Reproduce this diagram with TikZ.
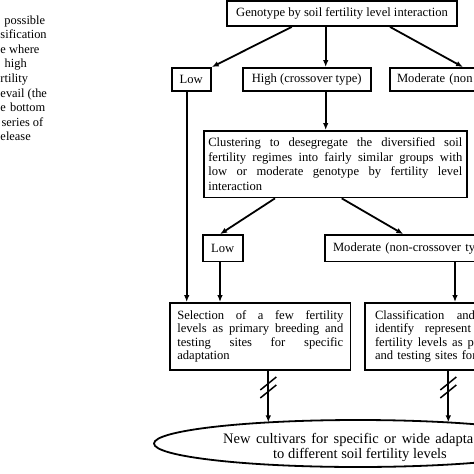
\documentclass[tikz,border=0pt]{standalone}
\usepackage{fontspec}
\setmainfont{Liberation Serif}
\usetikzlibrary{arrows.meta,shapes.geometric,calc}
\newcommand\xdfont{\fontsize{12.6pt}{14.4pt}\selectfont}
\newcommand\xsfont{\fontsize{12.6pt}{13.3pt}\selectfont}
\newcommand\xefont{\fontsize{14.5pt}{15pt}\selectfont}
\newcommand\xlfont{\fontsize{12.4pt}{14.6pt}\selectfont}
\newcommand\jl[2]{\leavevmode\hbox to #1{\spaceskip=0pt plus 1fil\relax #2}}
\begin{document}
\begin{tikzpicture}[x=1pt,y=-1pt,
  box/.style={draw,line width=1.8pt,inner sep=0pt,font=\xdfont},
  arr/.style={line width=1.8pt,-{Latex[length=7pt,width=5.5pt]}},
  slash/.style={line width=1.5pt},
  lefttxt/.style={font=\xlfont,inner sep=0pt}]
\useasboundingbox (0,0) rectangle (474,474);
\clip (0,0) rectangle (474,474);

% left caption fragments
\node[lefttxt,anchor=base east] (c1) at (45.3,24) {possible};
\node[lefttxt,anchor=base west] (c2) at (0.3,38.6) {sification};
\node[lefttxt,anchor=base west] (c3) at (0.3,53.2) {e where};
\node[lefttxt,anchor=base west] (c4) at (4.5,67.8) {high};
\node[lefttxt,anchor=base west] (c5) at (0.3,82.4) {rtility};
\node[lefttxt,anchor=base west] (c6) at (0.3,97) {evail (the};
\node[lefttxt,anchor=base west] (c7) at (0.3,111.6) {\jl{44.7pt}{e bottom}};
\node[lefttxt,anchor=base east] (c8) at (43.5,126.2) {series of};
\node[lefttxt,anchor=base west] (c9) at (0.3,140.8) {elease};

% boxes
\node[box,minimum width=230pt,minimum height=25pt] (top) at (342,13.5) {Genotype by soil fertility level interaction};
\node[box,minimum width=39pt,minimum height=23pt] (low1) at (191.2,79.5) {Low};
\node[box,minimum width=128pt,minimum height=23pt] (high) at (306.7,79.5) {High (crossover type)};
\node[box,minimum height=23pt,text width=116pt,inner xsep=7pt,align=left] (mod1) at (455,79.5) {Moderate (non};
\node[box,text width=254pt,inner xsep=4.5pt,minimum height=66.5pt,align=left] (clus) at (335.3,164.2)
  {\jl{254pt}{Clustering to desegregate the diversified soil}\\
   \jl{254pt}{fertility regimes into fairly similar groups with}\\
   \jl{254pt}{low or moderate genotype by fertility level}\\
   interaction};
\node[box,minimum width=40pt,minimum height=26.5pt] (low2) at (222.7,248.3) {Low};
\node[box,minimum height=26.5pt,text width=184pt,inner xsep=8pt,align=left] (mod2) at (425,248.3) {Moderate (non-crossover ty};
\node[box,font=\xsfont,text width=166pt,inner xsep=7.25pt,minimum height=67pt,align=left] (sel) at (260.3,336.5)
  {\jl{166pt}{Selection of a few fertility}\\
   \jl{166pt}{levels as primary breeding and}\\
   \jl{166pt}{testing sites for specific}\\
   adaptation};
\node[box,font=\xsfont,text width=166pt,inner xsep=10pt,minimum height=67pt,align=left] (clas) at (458,336.5)
  {\jl{100pt}{Classification and}\\
   \jl{96pt}{identify represent}\\
   \jl{99pt}{fertility levels as p}\\
   and testing sites for};

% ellipse
\node[draw,ellipse,line width=1.8pt,minimum width=408pt,minimum height=47pt,inner sep=0pt] (ell) at (358,443.5) {};
\node[font=\xefont,anchor=base west,inner sep=0pt] (el1) at (223,443.5) {\jl{250pt}{New cultivars for specific or wide adapta}};
\node[font=\xefont,anchor=base,inner sep=0pt] (el2) at (360,458) {to different soil fertility levels};
\coordinate (e1) at (268.3,422.4);
\coordinate (e2) at (448.3,422.4);

% connectors
\draw[arr] ([xshift=-50.3pt]top.south) -- ([xshift=20.5pt]low1.north);
\draw[arr] ([xshift=-16.3pt]top.south) -- ([xshift=19pt]high.north);
\draw[arr] ([xshift=48pt]top.south) -- ([xshift=8pt]mod1.north);
\draw[arr] ([xshift=19pt]high.south) -- ([xshift=-9.6pt]clus.north);
\draw[arr] ([xshift=-4.5pt]low1.south) -- ([xshift=-73.6pt]sel.north);
\draw[arr] ([xshift=-60.3pt]clus.south) -- ([xshift=-2.7pt]low2.north);
\draw[arr] ([xshift=6.4pt]clus.south) -- ([xshift=-21.7pt]mod2.north);
\draw[arr] ([xshift=-2.7pt]low2.south) -- ([xshift=-40.3pt]sel.north);
\draw[arr] ([xshift=30pt]mod2.south) -- ([xshift=-3pt]clas.north);
\draw[arr] ([xshift=8pt]sel.south) -- (e1);
\draw[arr] ([xshift=-9.7pt]clas.south) -- (e2);

% break marks
\draw[slash] ($(e1)+(-8,-32.4)$) -- ++(16,-13);
\draw[slash] ($(e1)+(-8,-24.4)$) -- ++(16,-13);
\draw[slash] ($(e2)+(-8,-32.4)$) -- ++(16,-13);
\draw[slash] ($(e2)+(-8,-24.4)$) -- ++(16,-13);
\end{tikzpicture}
\end{document}
